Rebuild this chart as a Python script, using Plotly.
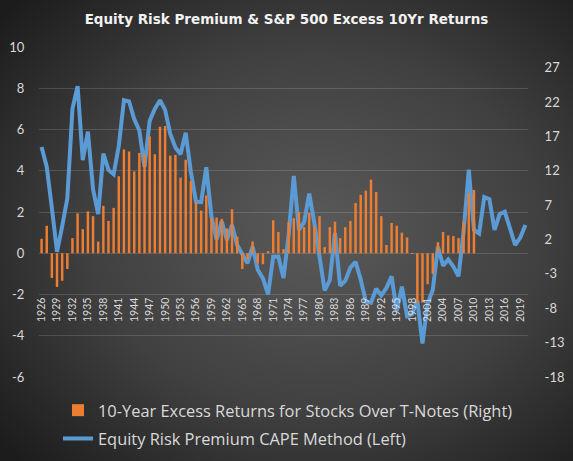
import base64
import plotly.graph_objects as go

# ---------------- data ----------------
years = list(range(1926, 2021))
bar_years = list(range(1926, 2011))

# 10-Year excess returns for stocks over T-notes (right axis units)
excess_returns = [
    2.1, 4.0, -3.6, -4.9, -4.0, -2.3, 2.2, 5.8, 3.5, 6.1,
    5.4, 1.7, 6.9, 4.7, 6.6, 11.2, 15.1, 14.8, 11.9, 14.6,
    14.4, 17.0, 14.4, 18.4, 18.5, 14.2, 14.3, 11.0, 13.6, 10.5,
    7.4, 6.2, 8.4, 5.1, 5.2, 5.0, 3.6, 6.4, 2.4, -2.3,
    -0.9, 1.7, -1.5, -1.6, 0.3, 4.8, 3.1, 0.6, 4.5, 5.1,
    6.0, 3.8, 5.9, 3.9, 5.4, 0.9, 3.8, 4.6, 2.2, 3.8,
    4.7, 7.3, 8.5, 9.1, 10.7, 8.9, 5.4, 1.2, 4.4, 4.0,
    3.0, 2.3, -0.1, -7.2, -7.2, -4.5, -3.0, 1.6, 3.1, 2.6,
    2.5, 2.2, 4.6, 8.7, 9.2,
]

# Equity risk premium, CAPE method (left axis units)
erp_cape = [
    5.15, 4.2, 2.2, 0.07, 1.3, 2.65, 7.0, 8.1, 4.52, 5.9,
    3.1, 1.9, 4.83, 4.04, 3.83, 5.2, 7.42, 7.36, 6.5, 5.95,
    4.18, 6.42, 7.0, 7.42, 6.95, 5.78, 5.13, 4.8, 5.84, 3.95,
    2.5, 2.48, 4.17, 1.78, 0.66, 1.55, 0.64, 1.37, 0.4, 0.0,
    -0.48, 0.32, -0.8, -1.22, -2.0, -0.17, -0.16, -1.2, 0.9, 3.75,
    1.14, 1.5, 2.89, 1.45, -0.1, -1.8, -1.3, 0.98, -1.58, -1.33,
    -0.7, -0.42, -1.27, -2.35, -2.4, -1.72, -2.04, -1.68, -1.12, -2.8,
    -1.62, -3.05, -2.95, -2.3, -4.38, -2.43, -1.78, 0.32, -0.6, -0.3,
    -0.65, -1.12, 1.1, 4.05, 1.13, 0.96, 2.72, 2.62, 1.13, 1.9,
    2.01, 1.17, 0.4, 0.76, 1.37,
]

left_ticks = [-6, -4, -2, 0, 2, 4, 6, 8, 10]
left_labels = ["-6", "-4", "-2", "0", "2", "4", "6", "8", "10"]
right_ticks = [-18, -13, -8, -3, 2, 7, 12, 17, 22, 27]
right_labels = ["-18", "-13", "-8", "-3", "2", "7", "12", "17", "22", "27"]
year_ticks = list(range(1926, 2021, 3))

bar_name = "10-Year Excess Returns for Stocks Over T-Notes (Right)"
line_name = "Equity Risk Premium CAPE Method (Left)"
title = "Equity Risk Premium &amp; S&amp;P 500 Excess 10Yr Returns"

# ---------------- figure ----------------
W, H = 573, 461
ml, mr, mt, mb = 39, 45, 47, 84
pw, ph = W - ml - mr, H - mt - mb

svg = f'''<svg xmlns="http://www.w3.org/2000/svg" width="{W}" height="{H}" viewBox="0 0 {W} {H}" preserveAspectRatio="none">
<defs><radialGradient id="g" cx="0.55" cy="0.5" r="0.72">
<stop offset="0" stop-color="#5a5a5a"/><stop offset="0.55" stop-color="#404040"/><stop offset="1" stop-color="#1c1c1c"/>
</radialGradient></defs><rect width="{W}" height="{H}" fill="url(#g)"/></svg>'''
bg_uri = "data:image/svg+xml;base64," + base64.b64encode(svg.encode()).decode()

fig = go.Figure()
fig.add_trace(go.Bar(
    x=bar_years, y=excess_returns, name=bar_name, yaxis="y2",
    marker=dict(color="#ED7D31", line=dict(width=0)),
    legendgroup="a",
))
fig.add_trace(go.Scatter(
    x=years, y=erp_cape, name=line_name, mode="lines", yaxis="y",
    line=dict(color="#5B9BD5", width=4),
    legendgroup="b",
))

tick_font = dict(family="Lato", size=13, color="#d9d9d9")
clear = "rgba(0,0,0,0)"

fig.update_layout(
    width=W, height=H,
    margin=dict(l=ml, r=mr, t=mt, b=mb, autoexpand=False),
    paper_bgcolor="#2a2a2a",
    plot_bgcolor=clear,
    bargap=0.52,
    showlegend=True,
    hovermode=False,
    title=dict(text=f"<b>{title}</b>", x=0.5, xanchor="center", y=1 - 19 / H,
               yanchor="middle", yref="container",
               font=dict(family="DejaVu Sans", size=13.5, color="#f2f2f2")),
    xaxis=dict(
        range=[1925.5, 2020.5], tickmode="array", tickvals=year_ticks,
        ticktext=[str(y) for y in year_ticks], tickangle=-90,
        showgrid=False, zeroline=False, showline=False, ticks="",
        anchor="free", position=0.25, automargin=False,
        tickfont=dict(family="Lato", size=10.5, color="#d9d9d9"),
    ),
    yaxis=dict(
        range=[-6, 10], tickmode="array", tickvals=left_ticks,
        ticktext=left_labels, automargin=False,
        showgrid=True, gridcolor="rgba(255,255,255,0.14)", gridwidth=1,
        zeroline=False, showline=False,
        ticks="outside", ticklen=11, tickcolor=clear,
        tickfont=tick_font,
    ),
    yaxis2=dict(
        range=[-18, 30], tickmode="array", tickvals=right_ticks,
        ticktext=right_labels, automargin=False,
        overlaying="y", side="right", showgrid=False, zeroline=False,
        showline=False, ticks="outside", ticklen=13, tickcolor=clear,
        tickfont=tick_font,
    ),
    legend=dict(
        orientation="v", x=(58 - ml) / pw, xanchor="left",
        y=-(393 - (mt + ph)) / ph, yanchor="top",
        font=dict(family="Open Sans", size=16.4, color="#d9d9d9"),
        bgcolor=clear, traceorder="grouped", tracegroupgap=4,
    ),
    images=[dict(
        source=bg_uri, xref="paper", yref="paper",
        x=-ml / pw, y=1 + mt / ph, sizex=W / pw, sizey=H / ph,
        xanchor="left", yanchor="top", sizing="stretch", layer="below",
    )],
)

fig.write_html(
    "out.html",
    config={"displayModeBar": False},
    post_script="document.body.style.margin='0';document.body.style.overflow='hidden';",
)
